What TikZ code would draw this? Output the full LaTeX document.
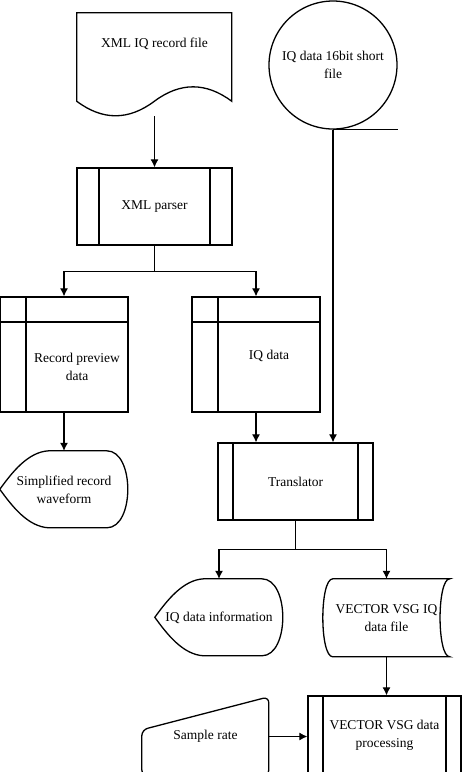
\documentclass[tikz,border=0pt]{standalone}
\usepackage{fontspec}
\setmainfont{Liberation Serif}
\usetikzlibrary{calc,arrows.meta}

\tikzset{>={Latex[length=8pt,width=8pt]},
         outline/.style={line width=1.3pt},
            link/.style={line width=1.1pt},
         process/.style={draw, outline, minimum width=155pt, minimum height=77pt,
                          path picture={
                            \draw[outline] ([xshift=#1]path picture bounding box.north west) -- ([xshift=#1]path picture bounding box.south west);
                            \draw[outline] ([xshift=-#1]path picture bounding box.north east) -- ([xshift=-#1]path picture bounding box.south east);}},
         process/.default=15pt,
           store/.style={draw, outline, minimum width=128pt, minimum height=115pt,
                          path picture={
                            \draw[outline] ([xshift=26pt]path picture bounding box.north west) -- ([xshift=26pt]path picture bounding box.south west);
                            \draw[outline] ([yshift=-25pt]path picture bounding box.north west) -- ([yshift=-25pt]path picture bounding box.north east);
                            \node[align=center] at ([shift={(13pt,-12.5pt)}]path picture bounding box.center) {#1};}},
         docfile/.style={minimum width=155pt, minimum height=103pt,
                          path picture={\node at ([yshift=20.5pt]path picture bounding box.center) {#1};}},
         seqfile/.style={draw, outline, circle, minimum size=128pt, align=center},
         display/.style={minimum width=128pt, minimum height=77pt, align=center},
          stored/.style={minimum width=127pt, minimum height=78pt, align=center},
          manual/.style={minimum width=127pt, minimum height=79pt}}

\begin{document}
\begin{tikzpicture}[x=1pt, y=-1pt, font=\fontsize{13.5pt}{18pt}\selectfont]
            \useasboundingbox (0,0) rectangle (462,772);

            \node[docfile={XML IQ record file}] at (154.5,  64.5) (record) {};
            \node[seqfile]                      at (333.0,  65.0) (short)  {IQ data 16bit short\\file};
            \node[process=22pt]                 at (154.5, 206.5) (parser) {XML parser};
            \node[store={Record preview\\data}] at ( 64.0, 354.5) (preview) {};
            \node[store={IQ data\\\strut}]      at (256.0, 354.5) (iqdata)  {};
            \node[display]                      at ( 64.0, 489.5) (simplified) {Simplified record\\waveform};
            \node[process]                      at (295.5, 481.5) (translator) {Translator};
            \node[display]                      at (219.0, 617.5) (iqinfo)  {IQ data information};
            \node[stored]                       at (386.5, 618.0) (vsgfile) {VECTOR VSG IQ\\data file};
            \node[process, minimum width=153pt, minimum height=79pt, align=center]
                                                at (384.5, 735.5) (processing) {VECTOR VSG data\\processing};
            \node[manual]                       at (205.5, 736.5) (sample)  {Sample rate};

            % outlines of the odd shapes
            \draw[outline, shift={(record.north west)}]
                   (0,0) -- (155,0) -- (155,88.5)
                .. controls (129.2,69.2) and (103.3,69.2) .. (77.5,88.5)
                .. controls (51.7,107.8) and (25.8,107.8) .. (0,88.5) -- cycle;
            \draw[outline] (short.south) -- (short.south -| short.east);
            \draw[outline, shift={(simplified.north west)}]
                   (0,38.5) .. controls (12,22) and (28,1) .. (49,0) -- (107,0)
                .. controls (135,0) and (135,77) .. (107,77) -- (49,77)
                .. controls (28,76) and (12,55) .. cycle;
            \draw[outline, shift={(iqinfo.north west)}]
                   (0,38.5) .. controls (12,22) and (28,1) .. (49,0) -- (107,0)
                .. controls (135,0) and (135,77) .. (107,77) -- (49,77)
                .. controls (28,76) and (12,55) .. cycle;
            \draw[outline, shift={(vsgfile.north west)}]
                   (10,0) -- (127,0) .. controls (114,0) and (114,78) .. (127,78)
                -- (10,78) .. controls (-3.3,78) and (-3.3,0) .. cycle;
            \draw[outline, rounded corners=6pt, shift={(sample.north west)}]
                   (0,33) -- (127,0) -- (127,79) -- (0,79) -- cycle;

            % connectors
            \draw[link, ->] (record.south) -- (parser.north);
            \draw[link, ->] (parser.south) -- ++(0,26) -| (preview.north);
            \draw[link, ->] (parser.south) -- ++(0,26) -| (iqdata.north);
            \draw[link, ->] (preview.south) -- (simplified.north);
            \draw[link, ->] (iqdata.south) -- (iqdata.south |- translator.north);
            \draw[link, ->] (short.south) -- (short.south |- translator.north);
            \draw[link, ->] (translator.south) -- ++(0,29) -| (iqinfo.north);
            \draw[link, ->] (translator.south) -- ++(0,29) -| (vsgfile.north);
            \draw[link, ->] (vsgfile.south) -- (vsgfile.south |- processing.north);
            \draw[link, ->] (sample.east) -- (sample.east -| processing.west);
        \end{tikzpicture}
\end{document}
